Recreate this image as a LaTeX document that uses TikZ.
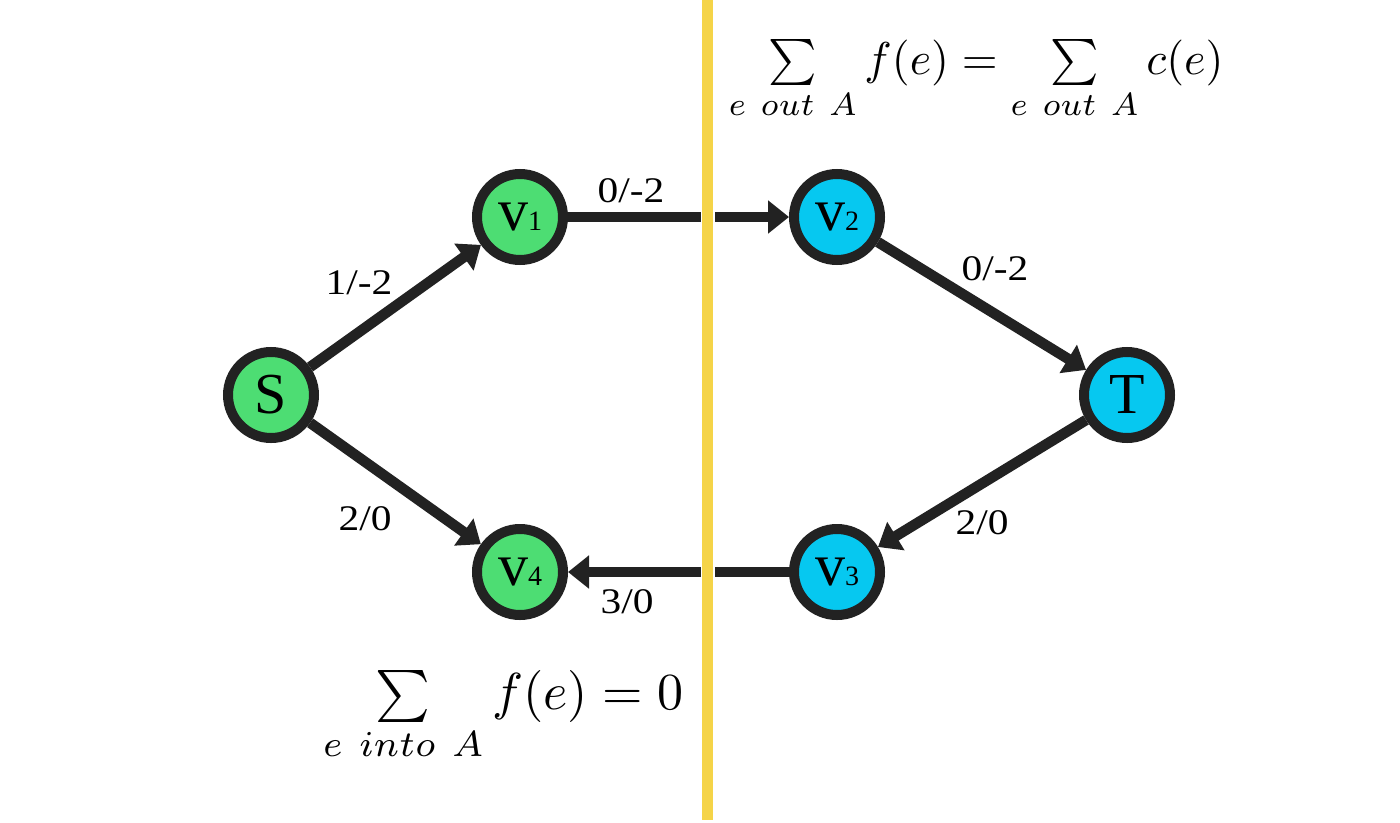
\documentclass[tikz,border=0pt]{standalone}
\usepackage{fontspec}
\newfontfamily\lblfont{Liberation Serif}
\newfontfamily\edgefont{Liberation Serif}[FakeStretch=1.15]
\usetikzlibrary{arrows.meta}
\definecolor{ngreen}{RGB}{77,221,115}
\definecolor{ncyan}{RGB}{6,200,240}
\definecolor{cutyellow}{RGB}{245,212,72}
\definecolor{ink}{RGB}{34,34,34}
\newcommand\vlab[1]{{\lblfont\fontsize{60}{62}\selectfont v}{\lblfont\fontsize{28}{30}\selectfont #1}}
\newcommand\wsp{\mkern7mu}
\begin{document}
\begin{tikzpicture}[x=1pt,y=-1pt,
  vertex/.style={circle, draw=ink, line width=10pt, minimum size=86pt, inner sep=0pt},
  greenv/.style={vertex, fill=ngreen},
  cyanv/.style={vertex, fill=ncyan},
  bigletter/.style={font=\lblfont\fontsize{58}{60}\selectfont},
  edge/.style={draw=ink, line width=10.5pt, -{Triangle[length=21pt,width=32pt]}},
  elabel/.style={font=\edgefont\fontsize{36}{38}\selectfont, inner sep=0pt, anchor=base},
  formula/.style={inner sep=0pt}]
\useasboundingbox[fill=white] (0,0) rectangle (1400,822);
% nodes
\node[greenv, bigletter] (s) at (271,395) {S};
\node[greenv] (v1) at (520,217) {\vlab{1}};
\node[cyanv] (v2) at (837,217) {\vlab{2}};
\node[cyanv, bigletter] (t) at (1127,395) {T};
\node[cyanv] (v3) at (837,572) {\vlab{3}};
\node[greenv] (v4) at (520,572) {\vlab{4}};
% edges
\draw[edge] (s) -- (v1);
\draw[edge] (s) -- (v4);
\draw[edge] (v1) -- (v2);
\draw[edge] (v2) -- (t);
\draw[edge] (t) -- (v3);
\draw[edge] (v3) -- (v4);
% edge labels
\node[elabel] (l1) at (359,294) {1/-2};
\node[elabel] (l2) at (365,530) {2/0};
\node[elabel] (l3) at (631,202) {0/-2};
\node[elabel] (l4) at (627,613) {3/0};
\node[elabel] (l5) at (995,280) {0/-2};
\node[elabel] (l6) at (982,534) {2/0};
% cut line
\coordinate (cuttop) at (707.5,0);
\coordinate (cutbot) at (707.5,820);
\draw[white, line width=14pt] (cuttop) -- (cutbot);
\draw[cutyellow, line width=10.5pt] (cuttop) -- (cutbot);
% formulas
\node[formula, scale=4.6] (f1) at (976,80) {$\sum\limits_{e\wsp out\wsp A} f(e) = \sum\limits_{e\wsp out\wsp A} c(e)$};
\node[formula, scale=5.2] (f2) at (503,716) {$\sum\limits_{e\wsp into\wsp A} f(e) = 0$};
\end{tikzpicture}
\end{document}
